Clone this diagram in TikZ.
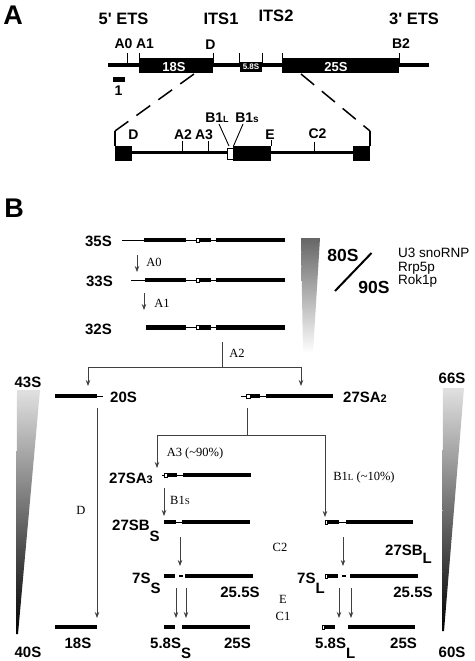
\documentclass[tikz,border=0pt]{standalone}
\usepackage{fontspec}
\setmainfont{Liberation Serif}
\setsansfont{Liberation Sans}
\usetikzlibrary{arrows.meta}

\newcommand\lowsub[2][11pt]{\raisebox{-#1}{#2}}

\tikzset{
  big/.style={font=\sffamily\bfseries\fontsize{27}{27}\selectfont, inner sep=0},
  ets/.style={font=\sffamily\bfseries\fontsize{16.5}{16.5}\selectfont, inner sep=0},
  site/.style={font=\sffamily\bfseries\fontsize{14}{14}\selectfont, inner sep=0},
  lbl/.style={font=\sffamily\bfseries\fontsize{15}{15}\selectfont, inner sep=0},
  cut/.style={font=\rmfamily\fontsize{12.5}{12.5}\selectfont, inner sep=0},
  prot/.style={font=\sffamily\fontsize{13.5}{13.5}\selectfont, inner sep=0, anchor=west},
  spacer/.style={line width=0.9},
  rrna/.style={line width=4.5},
  its/.style={draw=black, fill=white, line width=0.6},
  link/.style={draw=black!75, line width=0.8},
  proc/.style={link, -{Stealth[length=6pt,width=4.5pt]}},
  zoomline/.style={line width=1.5, dash pattern=on 17pt off 10pt},
}

\begin{document}
\begin{tikzpicture}[x=1pt,y=-1pt]

    \useasboundingbox (0,0) rectangle (474,661);

    % A
    \node[big] (labA) at (13,15) {A};

    \node[ets] (ets5) at (123.5,19) {5\textquotesingle{} ETS};
    \node[ets] (its1) at (221,18.5) {ITS1};
    \node[ets] (its2) at (276,16) {ITS2};
    \node[ets] (ets3) at (414,19) {3\textquotesingle{} ETS};

    \draw[line width=4] (108,65) -- (429,65);

    \foreach \x in {127,139,213,239.5,262,282,399}
      \draw[line width=1] (\x,53) -- (\x,65);

    \fill (139,58) rectangle (213,73);
    \fill (239.5,62) rectangle (262,72);
    \fill (282,58) rectangle (399,73);

    \node[site, text=white, font=\sffamily\bfseries\fontsize{13}{13}\selectfont] (r18) at (174,67) {18S};
    \node[site, text=white, font=\sffamily\bfseries\fontsize{8}{8}\selectfont] (r58) at (251,67) {5.8S};
    \node[site, text=white, font=\sffamily\bfseries\fontsize{13}{13}\selectfont] (r25) at (336,67.5) {25S};

    \node[site] (sA0) at (123.5,43.5) {A0};
    \node[site] (sA1) at (145,43.5) {A1};
    \node[site] (sD) at (210.5,44.5) {D};
    \node[site] (sB2) at (401,43.5) {B2};

    \fill (113,77) rectangle (125,82);
    \node[site] (scale1) at (118.5,91) {1};

    \coordinate (zl) at (115,131);
    \coordinate (zr) at (370,131);
    \draw[zoomline] (194,74) -- (zl);
    \draw[zoomline] (301,74) -- (zr);
    \draw[line width=1.2] (zl) -- (115,146);
    \draw[line width=1.2] (zr) -- (370,146);

    \draw[line width=3.5] (115,152.5) -- (370,152.5);
    \fill (115,146) rectangle (132,160.5);
    \fill (233,146) rectangle (271,160.5);
    \fill (353,146) rectangle (370,160.5);
    \draw[its] (227,148) rectangle (233,159.5);

    \draw[line width=1] (182,141) -- (182,152.5);
    \draw[line width=1] (208.5,141) -- (208.5,152.5);
    \draw[line width=1] (271,140) -- (271,146);
    \draw[line width=1] (314.5,141.5) -- (314.5,152.5);

    \node[site] (xD) at (133.5,135) {D};
    \node[site] (xA2) at (183,135) {A2};
    \node[site] (xA3) at (204,135) {A3};
    \node[site] (xE) at (270,135) {E};
    \node[site] (xC2) at (317.5,133.5) {C2};
    \node[site] (xB1L) at (217,118) {B1{\fontsize{9}{9}\selectfont L}};
    \node[site] (xB1S) at (247,118) {B1{\fontsize{10}{10}\selectfont s}};

    \draw[line width=0.9] (xB1L.south) ++(2,1) -- (229,146);
    \draw[line width=0.9] (xB1S.south) ++(-4,1) -- (233.5,146);

    % B
    \node[big] (labB) at (14,208) {B};

    \shade[top color=black!60, bottom color=white]
      (301,238) -- (320,238) -- (313,353) -- (303,353) -- cycle;

    \node[font=\sffamily\bfseries\fontsize{17.5}{17.5}\selectfont, inner sep=0] (s80) at (343,255) {80S};
    \node[font=\sffamily\bfseries\fontsize{17.5}{17.5}\selectfont, inner sep=0] (s90) at (374,287) {90S};
    \draw[line width=2] (371.5,253) -- (335,291);

    \node[prot] (pU3) at (398,253) {U3 snoRNP};
    \node[prot] (pRrp) at (398,268) {Rrp5p};
    \node[prot] (pRok) at (398,281) {Rok1p};

    % 35S
    \node[lbl, anchor=east] (l35S) at (112,241) {35S};
    \draw[spacer] (122,240) -- (285,240);
    \draw[rrna] (144,240) -- (186,240);
    \draw[rrna] (199.5,240) -- (211,240);
    \draw[rrna] (216,240) -- (285,240);
    \draw[its] (196,237.8) rectangle (199.5,242.2);

    \coordinate (a0s) at (137,255);
    \coordinate (a0e) at (137,272);
    \draw[proc] (a0s) -- (a0e);
    \node[cut] (cA0) at (154,262) {A0};

    % 33S
    \node[lbl, anchor=east] (l33S) at (113,281) {33S};
    \draw[spacer] (131,280) -- (285,280);
    \draw[rrna] (145,280) -- (186,280);
    \draw[rrna] (199.5,280) -- (211,280);
    \draw[rrna] (216,280) -- (285,280);
    \draw[its] (196,277.8) rectangle (199.5,282.2);

    \coordinate (a1s) at (144,293);
    \coordinate (a1e) at (144,310);
    \draw[proc] (a1s) -- (a1e);
    \node[cut] (cA1) at (162,303) {A1};

    % 32S
    \node[lbl, anchor=east] (l32S) at (112,329) {32S};
    \draw[spacer] (146,327.5) -- (285,327.5);
    \draw[rrna] (146,327.5) -- (186,327.5);
    \draw[rrna] (199.5,327.5) -- (211,327.5);
    \draw[rrna] (216,327.5) -- (285,327.5);
    \draw[its] (196,325.3) rectangle (199.5,329.7);

    \coordinate (a2s) at (222,342);
    \coordinate (a2j) at (222,367);
    \coordinate (t20) at (88,386);
    \coordinate (t27) at (301,386);
    \draw[link] (a2s) -- (a2j);
    \draw[proc] (a2j) -| (t20);
    \draw[proc] (a2j) -| (t27);
    \node[cut] (cA2) at (237,353) {A2};

    % 43S / 40S and 66S / 60S
    \shade[top color=black!12, bottom color=black]
      (17,390) -- (40,390) -- (18,634) -- (16,634) -- cycle;
    \shade[top color=black!12, bottom color=black]
      (443,388) -- (464,388) -- (444,631) -- (442,631) -- cycle;

    \node[lbl] (s43) at (28,382) {43S};
    \node[lbl, anchor=base] (s40) at (28,657) {40S};
    \node[lbl] (s66) at (452,378) {66S};
    \node[lbl, anchor=base] (s60) at (452,657) {60S};

    % 20S
    \draw[rrna] (55,396) -- (97,396);
    \draw[spacer] (97,396) -- (103,396);
    \node[lbl, anchor=west] (l20S) at (110,397) {20S};

    \coordinate (ds) at (97,408);
    \coordinate (de) at (97,618);
    \draw[proc] (ds) -- (de);
    \node[cut] (cD) at (81,510) {D};

    % 27SA2
    \draw[spacer] (241,396) -- (266,396);
    \draw[rrna] (250,396) -- (260,396);
    \draw[rrna] (266,396) -- (333,396);
    \draw[its] (246,393.8) rectangle (250,398.2);
    \node[lbl, anchor=west] (l27A2) at (343,397) {27SA{\fontsize{11}{11}\selectfont 2}};

    \coordinate (sps) at (247,408);
    \coordinate (spj) at (247,435);
    \coordinate (tA3) at (157,468);
    \coordinate (tBL) at (325,517);
    \draw[link] (sps) -- (spj);
    \draw[proc] (spj) -| (tA3);
    \draw[proc] (spj) -| (tBL);
    \node[cut] (cA3) at (195,453) {A3 (\textasciitilde90\%)};
    \node[cut] (cB1L) at (364,477) {B1{\fontsize{9}{9}\selectfont L} (\textasciitilde10\%)};

    % 27SA3
    \node[lbl, anchor=east] (l27A3) at (153,478) {27SA{\fontsize{11}{11}\selectfont 3}};
    \draw[spacer] (162,475) -- (183,475);
    \draw[rrna] (167,475) -- (177,475);
    \draw[rrna] (183,475) -- (251,475);
    \draw[its] (164.5,472.8) rectangle (167,477.2);

    \coordinate (b1s) at (164,488);
    \coordinate (b1e) at (164,516);
    \draw[proc] (b1s) -- (b1e);
    \node[cut] (cB1S) at (180,500) {B1{\fontsize{9}{9}\selectfont S}};

    % 27SBS
    \draw[spacer] (176,522) -- (182,522);
    \draw[rrna] (164,522) -- (176,522);
    \draw[rrna] (182,522) -- (250,522);
    \node[lbl, anchor=base west] (l27BS) at (112,530) {27SB\lowsub{S}};

    \coordinate (c2s) at (180,537);
    \coordinate (c2e) at (180,566);
    \draw[proc] (c2s) -- (c2e);
    \node[cut] (cC2) at (280,547) {C2};

    % 7SS
    \draw[rrna] (164,576) -- (175,576);
    \draw[line width=1.5] (179,576) -- (182.5,576);
    \draw[rrna] (185,576) -- (253,576);
    \node[lbl, anchor=base west] (l7S) at (132,583) {7S\lowsub[10pt]{S}};
    \node[lbl, anchor=base] (l255S) at (240,597) {25.5S};

    \coordinate (es1) at (176,588);
    \coordinate (ee1) at (176,618);
    \coordinate (es2) at (186,588);
    \coordinate (ee2) at (186,618);
    \draw[proc] (es1) -- (ee1);
    \draw[proc] (es2) -- (ee2);
    \node[cut] (cE) at (283,599) {E};
    \node[cut] (cC1) at (283,616) {C1};

    % mature S
    \draw[rrna] (55,627) -- (97,627);
    \draw[rrna] (164,627) -- (175,627);
    \draw[rrna] (182,627) -- (250,627);
    \node[lbl, anchor=base] (l18S) at (78,648) {18S};
    \node[lbl, anchor=base west] (l58S) at (150,648) {5.8S\lowsub[10pt]{S}};
    \node[lbl, anchor=base] (l25S) at (237.5,648) {25S};

    % 27SBL
    \draw[spacer] (339,522) -- (346,522);
    \draw[rrna] (327.5,522) -- (339,522);
    \draw[rrna] (346,522) -- (413,522);
    \draw[its] (325,519.8) rectangle (327.5,524.2);
    \node[lbl, anchor=base west] (l27BL) at (385,555) {27SB\lowsub[8pt]{L}};

    \coordinate (c2ls) at (343,537);
    \coordinate (c2le) at (343,566);
    \draw[proc] (c2ls) -- (c2le);

    % 7SL
    \draw[rrna] (327.5,576) -- (338,576);
    \draw[line width=1.5] (342,576) -- (345.5,576);
    \draw[rrna] (350,576) -- (418,576);
    \draw[its] (325,573.8) rectangle (327.5,578.2);
    \node[lbl, anchor=base west] (l7L) at (297,583) {7S\lowsub[10pt]{L}};
    \node[lbl, anchor=base] (l255L) at (413,597) {25.5S};

    \coordinate (els1) at (339,588);
    \coordinate (ele1) at (339,618);
    \coordinate (els2) at (351,588);
    \coordinate (ele2) at (351,618);
    \draw[proc] (els1) -- (ele1);
    \draw[proc] (els2) -- (ele2);

    % mature L
    \draw[rrna] (324.5,627) -- (335,627);
    \draw[rrna] (348,627) -- (415,627);
    \draw[its] (322,624.8) rectangle (324.5,629.2);
    \node[lbl, anchor=base west] (l58L) at (315,648) {5.8S\lowsub[10pt]{L}};
    \node[lbl, anchor=base] (l25L) at (403.5,648) {25S};

\end{tikzpicture}
\end{document}
